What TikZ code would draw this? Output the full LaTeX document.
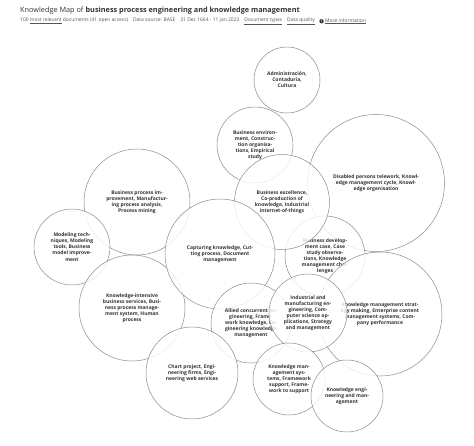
\documentclass[tikz,border=0pt]{standalone}
\usepackage{fontspec}
\setsansfont{Open Sans}
\usepackage{tikz}
\usetikzlibrary{positioning}
\definecolor{inkgray}{HTML}{333333}
\definecolor{subgray}{HTML}{555555}
\definecolor{rimgray}{HTML}{8A8A8A}

\begin{document}
\begin{tikzpicture}[
    x=1pt,
    y=-1pt,
    font=\sffamily,
    bubble/.style={
        circle,
        draw=rimgray,
        line width=0.5pt,
        fill=white,
        fill opacity=0.82,
        text opacity=1,
        inner sep=0pt,
        align=center,
        text=inkgray,
        font=\sffamily\bfseries\fontsize{5}{6.1}\selectfont
    },
    headline/.style={
        anchor=base west,
        inner sep=0pt,
        text=inkgray,
        font=\sffamily\fontsize{7.3}{8}\selectfont
    },
    subline/.style={
        anchor=base west,
        inner sep=0pt,
        text=subgray,
        font=\sffamily\fontsize{4.95}{5.2}\selectfont
    }
]

\useasboundingbox (0,0) rectangle (474,445);

% heading
\node[headline] (title) at (20,12.5)
    {Knowledge Map of \textbf{business process engineering and knowledge management}};

\node[subline] (subtitle) at (20,21.5)
    {100 \underline{most relevant} documents (41 open access)\quad
     Data source: BASE\quad 31 Dec 1664 - 11 Jan 2023\quad
     \underline{Document types}\quad \underline{Data quality}};

\node[
    circle,
    fill=inkgray,
    inner sep=0pt,
    minimum size=4.4pt,
    text=white,
    font=\sffamily\bfseries\fontsize{3.5}{3.5}\selectfont,
    right=4pt of subtitle.east
] (infoicon) {i};

\node[subline, anchor=west, right=1pt of infoicon] (moreinfo)
    {\underline{More information}};

% Administración
\node[bubble, minimum size=66pt] (admin) at (287,80)
    {Administración,\\Contaduría,\\Cultura};

% Business environment
\node[bubble, minimum size=76pt] (busenv) at (255,145)
    {Business environ-\\ment, Construc-\\tion organisa-\\tions, Empirical\\study};

% Disabled persons telework
\node[bubble, minimum size=137pt] (telework) at (376,183)
    {Disabled persons telework, Knowl-\\edge management cycle, Knowl-\\edge organisation};

% Business development case
\node[bubble, minimum size=80pt] (busdev) at (325,256)
    {Business develop-\\ment case, Case\\study observa-\\tions, Knowledge\\management chal-\\lenges};

% Business excellence
\node[bubble, minimum size=95pt] (excellence) at (282,202)
    {Business excellence,\\Co-production of\\knowledge, Industrial\\internet-of-things};

% Business process improvement
\node[bubble, minimum size=106pt] (procimp) at (137,202)
    {Business process im-\\provement, Manufactur-\\ing process analysis,\\Process mining};

% Modeling techniques
\node[bubble, minimum size=76pt] (modeling) at (72,247)
    {Modeling tech-\\niques, Modeling\\tools, Business\\model improve-\\ment};

% Knowledge-intensive business services
\node[bubble, minimum size=106pt] (kibs) at (132,308)
    {Knowledge-intensive\\business services, Busi-\\ness process manage-\\ment system, Human\\process};

% Capturing knowledge
\node[bubble, minimum size=110pt] (capturing) at (220,254)
    {Capturing knowledge, Cut-\\ting process, Document\\management};

% Knowledge management strategy
\node[bubble, minimum size=124pt] (kmstrat) at (380,314)
    {Knowledge management strat-\\egy making, Enterprise content\\management systems, Com-\\pany performance};

% Allied concurrent engineering
\node[bubble, minimum size=80pt] (allied) at (251,323)
    {Allied concurrent en-\\gineering, Frame-\\work knowledge, En-\\gineering knowledge\\management};

% Industrial and manufacturing engineering
\node[bubble, minimum size=78pt] (industrial) at (308,313)
    {Industrial and\\manufacturing en-\\gineering, Com-\\puter science ap-\\plications, Strategy\\and management};

% Chart project
\node[bubble, minimum size=92pt] (chart) at (192,373)
    {Chart project, Engi-\\neering firms, Engi-\\neering web services};

% Knowledge management systems
\node[bubble, minimum size=72pt] (kmsys) at (289,379)
    {Knowledge man-\\agement sys-\\tems, Framework\\support, Frame-\\work to support};

% Knowledge engineering
\node[bubble, minimum size=72pt] (kengineering) at (347,396)
    {Knowledge engi-\\neering and man-\\agement};

\end{tikzpicture}
\end{document}
